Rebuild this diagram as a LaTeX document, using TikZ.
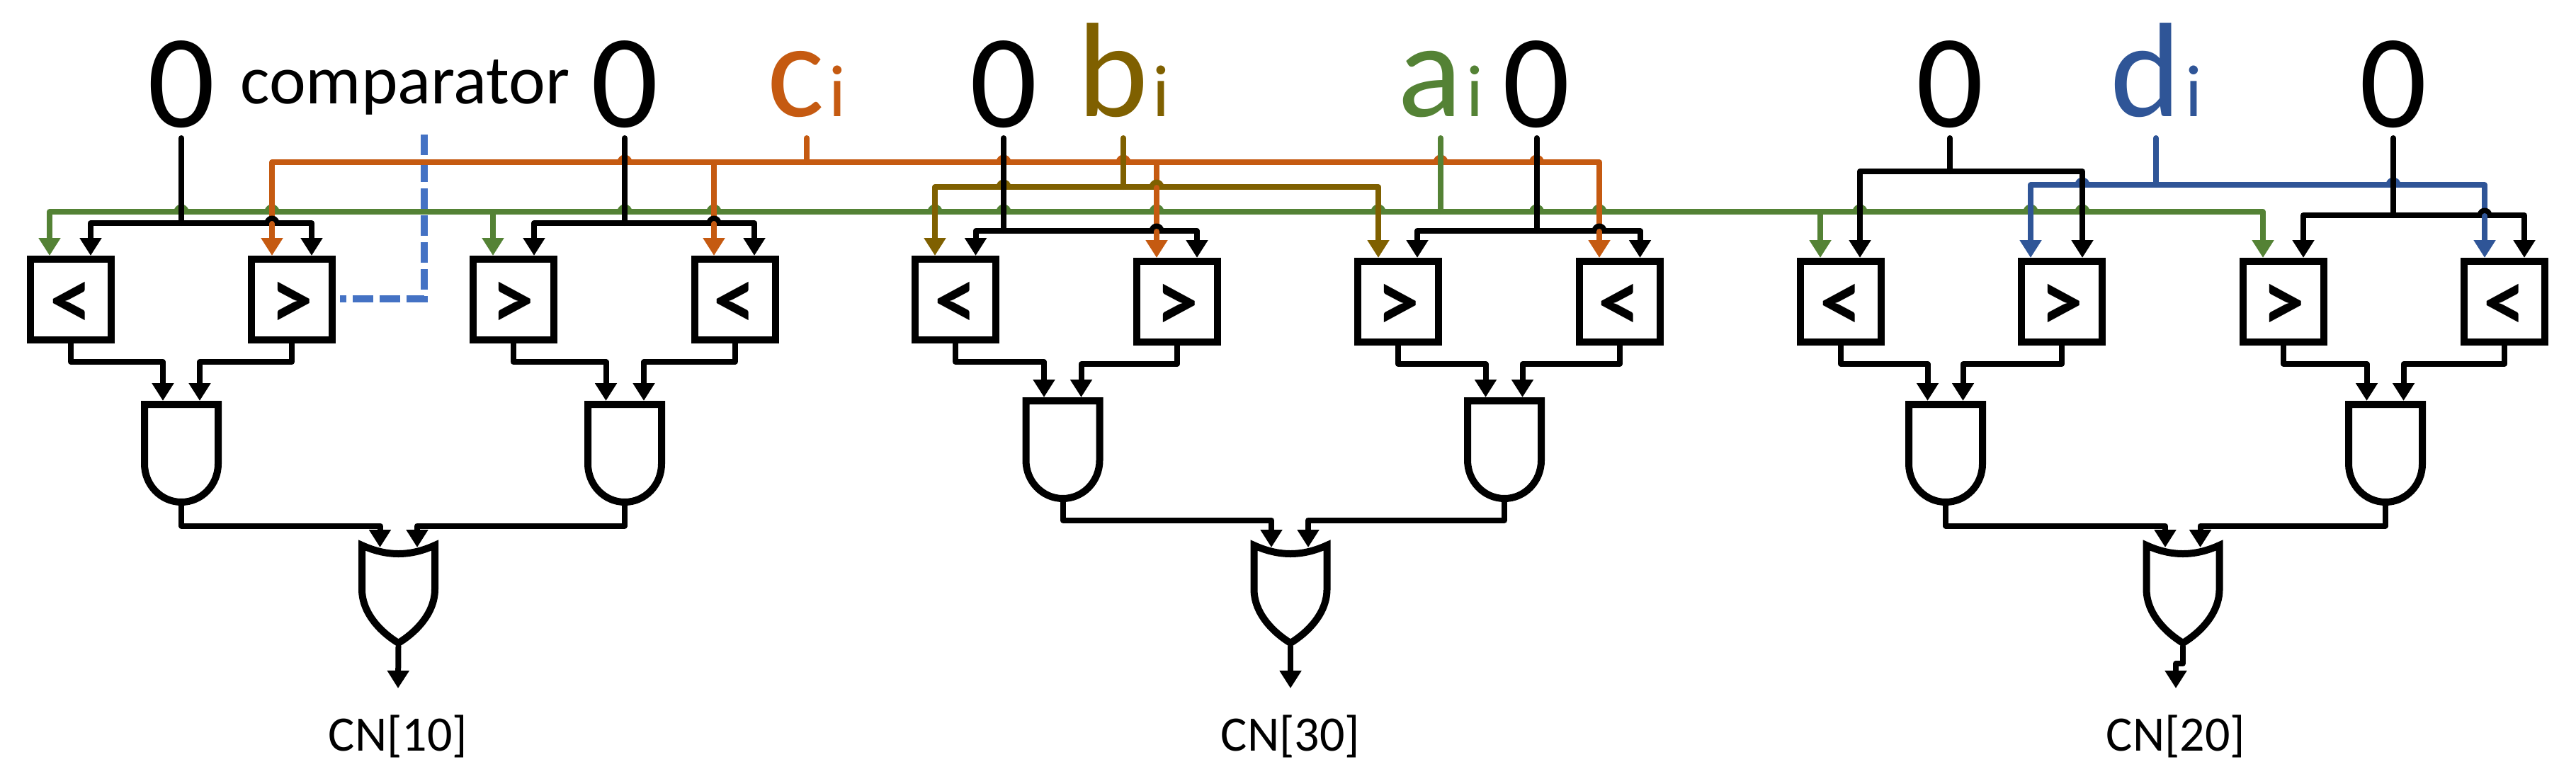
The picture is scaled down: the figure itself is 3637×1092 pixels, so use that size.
\documentclass[tikz,border=0pt]{standalone}
\usepackage{fontspec}
\setmainfont{Carlito}
\usetikzlibrary{calc, arrows.meta}

\definecolor{wgreen}{HTML}{548235}
\definecolor{worange}{HTML}{C55A11}
\definecolor{wolive}{HTML}{7F6000}
\definecolor{wblue}{HTML}{2F5597}
\definecolor{wdash}{HTML}{4472C4}

% small bump of a bus over a vertical wire: style, vertical, bus
\newcommand{\hop}[3]{\draw[#1, line cap=butt] ($(#2 |- #3)+(-6.5,0)$) arc[start angle=180, end angle=360, radius=6.5];}
% same bump, with the bus open below it so the vertical wire shows: style, wire style, vertical, bus
\newcommand{\hopover}[4]{
  \hop{#1}{#3}{#4}
  \draw[#2] ($(#3 |- #4)+(0,1)$) -- ($(#3 |- #4)+(0,5)$);
}
% comparator sign, set on the middle of its box
\newcommand{\cmpsign}[1]{\raisebox{-10.25pt}[0pt][0pt]{\scalebox{1.03}[1.06]{#1}}}

% gates are an empty node for the anchors plus their outline
\newcommand{\andgate}[2]{
  \node[gatearea] (#1) at (#2) {};
  \draw[gateline] ($(#1.north west)+(5,5)$) -- ($(#1.north east)+(-5,5)$) -- ++(0,84)
    arc[start angle=0, end angle=180, x radius=52, y radius=54] -- cycle;
}
\newcommand{\orgate}[2]{
  \node[gatearea, minimum height=37.75pt] (#1) at (#2) {};
  \draw[gateline] ($(#1.north west)+(5.5,8)$) .. controls +(35,16) and +(-35,16) .. ++(103,0) -- ++(0,62)
    .. controls +(0,35) and +(23,-14) .. ++(-51.5,76)
    .. controls +(-23,-14) and +(0,35) .. ++(-51.5,-76) -- cycle;
}

\begin{document}
\begin{tikzpicture}[
  x=0.25pt, y=-0.25pt,
  box/.style={rectangle, draw, line width=2.5pt, minimum width=28.5pt, minimum height=28.5pt, inner sep=0pt, font=\bfseries\fontsize{29}{30}\selectfont},
  gatearea/.style={rectangle, minimum width=28.5pt, minimum height=37pt, inner sep=0pt, outer sep=0pt},
  gateline/.style={line width=2.5pt, line join=miter},
  zero/.style={anchor=south, inner sep=0pt, text depth=3.75pt, font=\fontsize{47}{50}\selectfont},
  sig/.style={anchor=south, inner sep=0pt, text depth=7.5pt, font=\fontsize{47.5}{50}\selectfont},
  cnlabel/.style={anchor=north, inner sep=0pt, text height=22pt, font=\fontsize{17.5}{20}\selectfont},
  wire/.style={line width=2pt, line cap=round, line join=round},
  wireg/.style={wire, wgreen},
  wireo/.style={wire, worange},
  wirey/.style={wire, wolive},
  wired/.style={wire, wblue},
  arrow/.style={-{Triangle[length=6.25pt, width=7.4pt]}},
  twotips/.style={{Triangle[length=6.25pt, width=7.4pt]}-{Triangle[length=6.25pt, width=7.4pt]}}
]
\useasboundingbox (0,0) rectangle (3637,1092);

% Input values
\node[zero] (z1) at (256,195)  {0};
\node[zero] (z2) at (882,195)  {0};
\node[zero] (z3) at (1417,195) {0};
\node[zero] (z4) at (2169.5,195) {0};
\node[zero] (z5) at (2753,195) {0};
\node[zero] (z6) at (3379,195) {0};

\node[sig, text=worange] (ci) at (1139,195) {c{\kern 1.5pt\fontsize{26}{28}\selectfont i}};
\node[sig, text=wolive]  (bi) at (1586,195) {b{\kern 1.5pt\fontsize{26}{28}\selectfont i}};
\node[sig, text=wgreen]  (ai) at (2034,195) {a{\kern 1.5pt\fontsize{26}{28}\selectfont i}};
\node[sig, text=wblue]   (di) at (3044,195) {d{\kern 1.5pt\fontsize{26}{28}\selectfont i}};

\node[anchor=base, inner sep=0pt, font=\fontsize{24.5}{26}\selectfont] (cmp) at (572,146) {comparator};

% Comparators
\node[box] (b1)  at (100,423)    {\cmpsign{<}};
\node[box] (b2)  at (412,423)    {\cmpsign{>}};
\node[box] (b3)  at (724.5,423)  {\cmpsign{>}};
\node[box] (b4)  at (1037.5,423) {\cmpsign{<}};
\node[box] (b5)  at (1349,423)   {\cmpsign{<}};
\node[box] (b6)  at (1662,426)   {\cmpsign{>}};
\node[box] (b7)  at (1974,426)   {\cmpsign{>}};
\node[box] (b8)  at (2286.5,426) {\cmpsign{<}};
\node[box] (b9)  at (2599,426)   {\cmpsign{<}};
\node[box] (b10) at (2911,426)   {\cmpsign{>}};
\node[box] (b11) at (3224,426)   {\cmpsign{>}};
\node[box] (b12) at (3536,426)   {\cmpsign{<}};

% Gates
\andgate{a1}{256,640}
\andgate{a2}{882,640}
\andgate{a3}{1500.5,635}
\andgate{a4}{2124,635}
\andgate{a5}{2747,640}
\andgate{a6}{3368,640}
\orgate{o1}{562.5,837.5}
\orgate{o2}{1822,837.5}
\orgate{o3}{3082,837.5}

% Outputs
\node[cnlabel] (cn1) at (562,972)  {CN[10]};
\node[cnlabel] (cn2) at (1822,972) {CN[30]};
\node[cnlabel] (cn3) at (3072,972) {CN[20]};

% Comparator inputs on the top of the boxes
\coordinate (in1a)  at ($(b1.north)+(-30,0)$);
\coordinate (in1b)  at ($(b1.north)+(28,0)$);
\coordinate (in2a)  at ($(b2.north)+(-28,0)$);
\coordinate (in2b)  at ($(b2.north)+(28,0)$);
\coordinate (in3a)  at ($(b3.north)+(-28.5,0)$);
\coordinate (in3b)  at ($(b3.north)+(29.5,0)$);
\coordinate (in4a)  at ($(b4.north)+(-29.5,0)$);
\coordinate (in4b)  at ($(b4.north)+(27.5,0)$);
\coordinate (in5a)  at ($(b5.north)+(-29,0)$);
\coordinate (in5b)  at ($(b5.north)+(28.5,0)$);
\coordinate (in6a)  at ($(b6.north)+(-29,0)$);
\coordinate (in6b)  at ($(b6.north)+(28,0)$);
\coordinate (in7a)  at ($(b7.north)+(-28,0)$);
\coordinate (in7b)  at ($(b7.north)+(27,0)$);
\coordinate (in8a)  at ($(b8.north)+(-28.5,0)$);
\coordinate (in8b)  at ($(b8.north)+(29,0)$);
\coordinate (in9a)  at ($(b9.north)+(-29,0)$);
\coordinate (in9b)  at ($(b9.north)+(27,0)$);
\coordinate (in10a) at ($(b10.north)+(-44,0)$);
\coordinate (in10b) at ($(b10.north)+(29,0)$);
\coordinate (in11a) at ($(b11.north)+(-29,0)$);
\coordinate (in11b) at ($(b11.north)+(28,0)$);
\coordinate (in12a) at ($(b12.north)+(-28,0)$);
\coordinate (in12b) at ($(b12.north)+(28,0)$);

% Bus heights
\coordinate (gbus) at (0,299);
\coordinate (obus) at (0,229);
\coordinate (ybus) at (0,264);
\coordinate (dbus) at (0,261);
\coordinate (bus1) at (0,315);
\coordinate (bus2) at (0,326);
\coordinate (bus3) at (0,242);
\coordinate (bus4) at (0,304);

% Dashed comparator pointer
\coordinate (cmptop) at (599,190);
\coordinate (cmpend) at ($(b2.east)+(6,-1)$);
\draw[wdash, line width=2.5pt, dash pattern=on 7.25pt off 2.25pt] (cmptop) |- (cmpend);

% Green bus (lowest)
\draw[wireg, twotips] (in1a) -- (in1a |- gbus) -- (in11a |- gbus) -- (in11a);
\draw[wireg, arrow] (in3a |- gbus) -- (in3a);
\draw[wireg, arrow] (in9a |- gbus) -- (in9a);
\hop{wireg}{z1}{gbus} \hop{wireg}{in2a}{gbus} \hop{wireg}{z2}{gbus} \hop{wireg}{in4a}{gbus}
\hop{wireg}{in5a}{gbus} \hop{wireg}{z3}{gbus} \hop{wireg}{in6a}{gbus} \hop{wireg}{in7a}{gbus}
\hop{wireg}{z4}{gbus} \hop{wireg}{in8a}{gbus} \hop{wireg}{in9b}{gbus} \hop{wireg}{in10a}{gbus}
\hop{wireg}{in10b}{gbus}

% Orange bus
\draw[wireo, twotips] (in2a) -- (in2a |- obus) -- (in8a |- obus) -- (in8a);
\draw[wireo, arrow] (in4a |- obus) -- (in4a);
\draw[wireo, arrow] (in6a |- obus) -- (in6a);
\draw[wireo] (ci.south) -- (ci.south |- obus);
\hop{wireo}{z2}{obus} \hop{wireo}{z3}{obus} \hop{wireo}{bi.south}{obus} \hop{wireo}{ai.south}{obus}
\hop{wireo}{z4}{obus}

% Olive bus
\draw[wirey, twotips] (in5a) -- (in5a |- ybus) -- (in7a |- ybus) -- (in7a);
\draw[wirey] (bi.south) -- (bi.south |- ybus);
\hop{wirey}{z3}{ybus}
\hopover{wirey}{wireo}{in6a}{ybus}

% Green stub
\draw[wireg] (ai.south) -- (ai.south |- gbus);

% Blue bus
\draw[wired, twotips] (in10a) -- (in10a |- dbus) -- (in12a |- dbus) -- (in12a);
\draw[wired] (di.south) -- (di.south |- dbus);
\hop{wired}{in10b}{dbus} \hop{wired}{z6}{dbus}

% Black buses
\draw[wire, twotips] (in1b) -- (in1b |- bus1) -- (in2b |- bus1) -- (in2b);
\draw[wire] (z1.south) -- (z1.south |- bus1);
\hopover{wire}{wireo}{in2a}{bus1}
\draw[wire, twotips] (in3b) -- (in3b |- bus1) -- (in4b |- bus1) -- (in4b);
\draw[wire] (z2.south) -- (z2.south |- bus1);
\hopover{wire}{wireo}{in4a}{bus1}
\draw[wire, twotips] (in5b) -- (in5b |- bus2) -- (in6b |- bus2) -- (in6b);
\draw[wire] (z3.south) -- (z3.south |- bus2);
\hopover{wire}{wireo}{in6a}{bus2}
\draw[wire, twotips] (in7b) -- (in7b |- bus2) -- (in8b |- bus2) -- (in8b);
\draw[wire] (z4.south) -- (z4.south |- bus2);
\hopover{wire}{wireo}{in8a}{bus2}
\draw[wire, twotips] (in9b) -- (in9b |- bus3) -- (in10b |- bus3) -- (in10b);
\draw[wire] (z5.south) -- (z5.south |- bus3);
\draw[wire, twotips] (in11b) -- (in11b |- bus4) -- (in12b |- bus4) -- (in12b);
\draw[wire] (z6.south) -- (z6.south |- bus4);
\hopover{wire}{wired}{in12a}{bus4}

% Comparators to AND gates
\draw[wire, arrow] (b1.south)  |- ($(a1.north)+(-26,-55)$) -- ($(a1.north)+(-26,0)$);
\draw[wire, arrow] (b2.south)  |- ($(a1.north)+(26,-55)$)  -- ($(a1.north)+(26,0)$);
\draw[wire, arrow] (b3.south)  |- ($(a2.north)+(-26.5,-55)$) -- ($(a2.north)+(-26.5,0)$);
\draw[wire, arrow] (b4.south)  |- ($(a2.north)+(27,-55)$)  -- ($(a2.north)+(27,0)$);
\draw[wire, arrow] (b5.south)  |- ($(a3.north)+(-26.5,-50)$) -- ($(a3.north)+(-26.5,0)$);
\draw[wire, arrow] (b6.south)  |- ($(a3.north)+(26,-47)$)  -- ($(a3.north)+(26,0)$);
\draw[wire, arrow] (b7.south)  |- ($(a4.north)+(-26.5,-47)$) -- ($(a4.north)+(-26.5,0)$);
\draw[wire, arrow] (b8.south)  |- ($(a4.north)+(25.5,-47)$) -- ($(a4.north)+(25.5,0)$);
\draw[wire, arrow] (b9.south)  |- ($(a5.north)+(-25.5,-52)$) -- ($(a5.north)+(-25.5,0)$);
\draw[wire, arrow] (b10.south) |- ($(a5.north)+(24.5,-52)$) -- ($(a5.north)+(24.5,0)$);
\draw[wire, arrow] (b11.south) |- ($(a6.north)+(-26.5,-52)$) -- ($(a6.north)+(-26.5,0)$);
\draw[wire, arrow] (b12.south) |- ($(a6.north)+(25.5,-52)$) -- ($(a6.north)+(25.5,0)$);

% AND gates to OR gates
\draw[wire, arrow] (a1.south) |- ($(o1.north)+(-26,-19.5)$) -- ($(o1.north)+(-26,11)$);
\draw[wire, arrow] (a2.south) |- ($(o1.north)+(26.5,-19.5)$) -- ($(o1.north)+(26.5,11)$);
\draw[wire, arrow] (a3.south) |- ($(o2.north)+(-27,-27.5)$) -- ($(o2.north)+(-27,11)$);
\draw[wire, arrow] (a4.south) |- ($(o2.north)+(25,-27.5)$) -- ($(o2.north)+(25,11)$);
\draw[wire, arrow] (a5.south) |- ($(o3.north)+(-25,-19.5)$) -- ($(o3.north)+(-25,11)$);
\draw[wire, arrow] (a6.south) |- ($(o3.north)+(24.5,-19.5)$) -- ($(o3.north)+(24.5,11)$);

% OR gates to outputs
\draw[wire, arrow] (o1.south) -- (cn1.north);
\draw[wire, arrow] (o2.south) -- (cn2.north);
\draw[wire, arrow] (o3.south) |- ($(cn3.north)+(0,-35)$) -- (cn3.north);

\end{tikzpicture}
\end{document}
